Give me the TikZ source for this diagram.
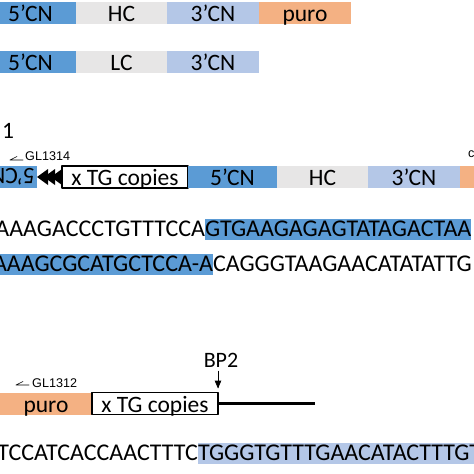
\documentclass[tikz,border=0pt]{standalone}
\usepackage{fontspec}
\setmainfont{Carlito}
\newfontfamily\primerfont{Liberation Sans}
\usetikzlibrary{arrows,positioning}
\definecolor{cnblue}{rgb}{0.357,0.608,0.835}
\definecolor{cnlight}{rgb}{0.706,0.780,0.906}
\definecolor{hcgray}{rgb}{0.906,0.902,0.902}
\definecolor{puroorange}{rgb}{0.957,0.694,0.514}
\begin{document}
\begin{tikzpicture}[line cap=round,line join=round,>=triangle 45,x=1pt,y=-1pt,
  seg/.style={inner sep=0pt,outer sep=0pt,minimum height=22pt,text height=17pt,text depth=0pt,font=\fontsize{23.5}{28}\selectfont},
  seq/.style={inner sep=0pt,outer sep=0pt,text height=17pt,text depth=4pt,font=\fontsize{24}{28}\selectfont},
  primer/.style={inner sep=0pt,font=\primerfont\fontsize{12.6}{14}\selectfont}]
\useasboundingbox (0,0) rectangle (474,474);
\clip (0,0) rectangle (474,474);
% heavy chain construct
\node[seg,fill=cnblue,minimum width=91pt,anchor=west] (r1cn5) at (-15,13) {5'CN};
\node[seg,fill=hcgray,minimum width=91pt,right=0pt of r1cn5] (r1hc) {HC};
\node[seg,fill=cnlight,minimum width=92pt,right=0pt of r1hc] (r1cn3) {3'CN};
\node[seg,fill=puroorange,minimum width=92pt,right=0pt of r1cn3] (r1puro) {puro};
% light chain construct
\node[seg,fill=cnblue,minimum width=91pt,anchor=west] (r2cn5) at (-15,61.5) {5'CN};
\node[seg,fill=hcgray,minimum width=91pt,right=0pt of r2cn5] (r2lc) {LC};
\node[seg,fill=cnlight,minimum width=92pt,right=0pt of r2lc] (r2cn3) {3'CN};
% breakpoint 1
\node[anchor=base west,inner sep=0pt,font=\fontsize{23.5}{28}\selectfont] (lbl1) at (2,138) {1};
\node[primer,anchor=base west] (gl1314) at (25,160) {GL1314};
\draw[line width=0.6pt] ([xshift=-2pt]gl1314.base west) -- ++(-13,0) -- ++(7,-3.5);
\node[primer,anchor=base west] (cfrag) at (468,157) {c};
\node[seg,fill=cnblue,minimum width=49pt,anchor=east] (r3cnrev) at (37,177) {};
\node[seg,rotate=180] (r3revtxt) at (12.5,177) {5'CN};
\foreach \t in {37,44,51}
  \fill (\t,177) -- (\t+11,169) -- (\t+11,185) -- cycle;
\node[seg,draw,line width=1.2pt,fill=white,minimum width=126pt,anchor=west] (r3tg) at (62,177) {x TG copies};
\node[seg,fill=cnblue,minimum width=89pt,right=0pt of r3tg] (r3cn5) {5'CN};
\node[seg,fill=hcgray,minimum width=91pt,right=0pt of r3cn5] (r3hc) {HC};
\node[seg,fill=cnlight,minimum width=92pt,right=0pt of r3hc] (r3cn3) {3'CN};
\node[seg,fill=puroorange,minimum width=92pt,right=0pt of r3cn3] (r3puro) {};
% junction sequence 1
\node[seq,anchor=north east] (s1a) at (205,219) {AAAGACCCTGTTTCCA};
\node[seq,fill=cnblue,anchor=north west] (s1b) at (205,219) {GTGAAGAGAGTATAGACTAA};
\node[seq,fill=cnblue,anchor=north east] (s2a) at (213,254) {AAAGCGCATGCTCCA-A};
\node[seq,anchor=north west] (s2b) at (213,254) {CAGGGTAAGAACATATATTG};
% breakpoint 2
\node[seg,fill=puroorange,minimum width=92pt,anchor=west] (r4puro) at (0,403.5) {puro};
\node[seg,draw,line width=1.2pt,fill=white,minimum width=126pt,right=0pt of r4puro] (r4tg) {x TG copies};
\coordinate (r4end) at (315,403.5);
\draw[line width=3pt,line cap=butt] (r4tg.east) -- (r4end);
\node[primer,anchor=base west] (gl1312) at (32,387) {GL1312};
\draw[line width=0.6pt] ([shift={(-3,-2)}]gl1312.base west) -- ++(-13,0) -- ++(7,-3.5);
\node[anchor=base,inner sep=0pt,text depth=0pt,font=\fontsize{22}{26}\selectfont] (bp2) at (221,367) {BP2};
\draw[->,line width=0.8pt,shorten <=4pt,shorten >=4pt] (bp2.south -| r4tg.east) -- (r4tg.north east);
% junction sequence 2
\node[seq,anchor=north east] (s3a) at (198,443) {TCCATCACCAACTTTC};
\node[seq,fill=cnlight,anchor=north west] (s3b) at (198,443) {TGGGTGTTTGAACATACTTTGT};
\end{tikzpicture}
\end{document}
